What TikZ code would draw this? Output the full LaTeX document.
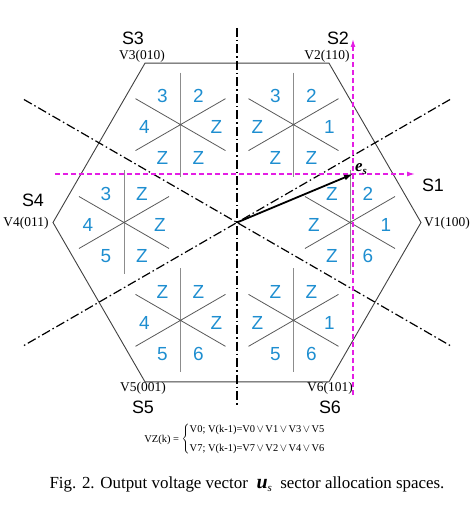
\documentclass[tikz,border=0pt]{standalone}
\usepackage{fontspec}
\setmainfont{Liberation Serif}
\newfontfamily\hexsans{Liberation Sans}
\usetikzlibrary{arrows.meta,positioning}
\definecolor{numblue}{RGB}{30,142,208}
\definecolor{guidemag}{RGB}{228,30,228}
\tikzset{
  hexline/.style={draw=black!75,line width=0.9bp},
  armline/.style={draw=black!65,line width=0.8bp},
  armvert/.style={draw=black!45,line width=0.8bp},
  axisline/.style={line width=1.2bp,dash pattern=on 9bp off 3bp on 1.5bp off 3bp},
  guide/.style={draw=guidemag,line width=1.3bp,dash pattern=on 5bp off 3bp,-{Latex[length=8bp,width=5bp]}},
  num/.style={text=numblue,font=\hexsans\fontsize{19}{19}\selectfont,inner sep=0pt},
  sect/.style={font=\hexsans\fontsize{18}{18}\selectfont,inner sep=0pt},
  vlab/.style={font=\fontsize{13.5}{14}\selectfont,inner sep=0pt},
}
\newcommand{\orv}{\hspace{1.5bp}$\vee$\hspace{1.5bp}}
\begin{document}
\begin{tikzpicture}[x=1bp,y=1bp]
  \useasboundingbox (-237,-289.5) rectangle (237,222.5);
  % outer hexagon
  \path
    (0:184) coordinate (h1)
    (60:184) coordinate (h2)
    (120:184) coordinate (h3)
    (180:184) coordinate (h4)
    (240:184) coordinate (h5)
    (300:184) coordinate (h6);
  \draw[hexline] (h1) -- (h2) -- (h3) -- (h4) -- (h5) -- (h6) -- cycle;

  % dash-dot axes
  \path
    (0,194.5) coordinate (ax1) (0,-182.5) coordinate (ax2)
    (30:246) coordinate (ax3) (210:246) coordinate (ax4)
    (150:246) coordinate (ax5) (330:246) coordinate (ax6);
  \draw[axisline] (ax1) -- (ax2);
  \draw[axisline] (ax3) -- (ax4);
  \draw[axisline] (ax5) -- (ax6);

  % sector stars
  \begin{scope}[shift={(0:113)}]
    \draw[armvert] (90:52) -- (270:52);
    \draw[armline] (30:52) -- (210:52) (150:52) -- (330:52);
    \draw[yshift=-2.5]
      (0:36) node[num] (s1a) {1}
      (60:36) node[num] (s1b) {2}
      (120:36) node[num] (s1c) {Z}
      (180:36) node[num] (s1d) {Z}
      (240:36) node[num] (s1e) {Z}
      (300:36) node[num] (s1f) {6};
  \end{scope}
  \begin{scope}[shift={(60:113)}]
    \draw[armvert] (90:52) -- (270:52);
    \draw[armline] (30:52) -- (210:52) (150:52) -- (330:52);
    \draw[yshift=-2.5]
      (0:36) node[num] (s2a) {1}
      (60:36) node[num] (s2b) {2}
      (120:36) node[num] (s2c) {3}
      (180:36) node[num] (s2d) {Z}
      (240:36) node[num] (s2e) {Z}
      (300:36) node[num] (s2f) {Z};
  \end{scope}
  \begin{scope}[shift={(120:113)}]
    \draw[armvert] (90:52) -- (270:52);
    \draw[armline] (30:52) -- (210:52) (150:52) -- (330:52);
    \draw[yshift=-2.5]
      (0:36) node[num] (s3a) {Z}
      (60:36) node[num] (s3b) {2}
      (120:36) node[num] (s3c) {3}
      (180:36) node[num] (s3d) {4}
      (240:36) node[num] (s3e) {Z}
      (300:36) node[num] (s3f) {Z};
  \end{scope}
  \begin{scope}[shift={(180:113)}]
    \draw[armvert] (90:52) -- (270:52);
    \draw[armline] (30:52) -- (210:52) (150:52) -- (330:52);
    \draw[yshift=-2.5]
      (0:36) node[num] (s4a) {Z}
      (60:36) node[num] (s4b) {Z}
      (120:36) node[num] (s4c) {3}
      (180:36) node[num] (s4d) {4}
      (240:36) node[num] (s4e) {5}
      (300:36) node[num] (s4f) {Z};
  \end{scope}
  \begin{scope}[shift={(240:113)}]
    \draw[armvert] (90:52) -- (270:52);
    \draw[armline] (30:52) -- (210:52) (150:52) -- (330:52);
    \draw[yshift=-2.5]
      (0:36) node[num] (s5a) {Z}
      (60:36) node[num] (s5b) {Z}
      (120:36) node[num] (s5c) {Z}
      (180:36) node[num] (s5d) {4}
      (240:36) node[num] (s5e) {5}
      (300:36) node[num] (s5f) {6};
  \end{scope}
  \begin{scope}[shift={(300:113)}]
    \draw[armvert] (90:52) -- (270:52);
    \draw[armline] (30:52) -- (210:52) (150:52) -- (330:52);
    \draw[yshift=-2.5]
      (0:36) node[num] (s6a) {1}
      (60:36) node[num] (s6b) {Z}
      (120:36) node[num] (s6c) {Z}
      (180:36) node[num] (s6d) {Z}
      (240:36) node[num] (s6e) {5}
      (300:36) node[num] (s6f) {6};
  \end{scope}

  % sector and vector labels
  \draw
    (-104,184.5) node[sect] (S3) {S3}
    (101,184.5) node[sect] (S2) {S2}
    (196,37.5) node[sect] (S1) {S1}
    (-204,22.5) node[sect] (S4) {S4}
    (-94,-184.5) node[sect] (S5) {S5}
    (93,-184.5) node[sect] (S6) {S6};
  \draw
    (-95,166.5) node[vlab] (V3) {V3(010)}
    (90,166.5) node[vlab] (V2) {V2(110)}
    (210,-0.5) node[vlab] (V1) {V1(100)}
    (-211,-0.5) node[vlab] (V4) {V4(011)}
    (-94,-165.5) node[vlab] (V5) {V5(001)}
    (93,-165.5) node[vlab] (V6) {V6(101)};

  % guide lines and output vector
  \path
    (-182,48.5) coordinate (gx1) (178,48.5) coordinate (gx2)
    (116,-172.5) coordinate (gy1) (116,183.5) coordinate (gy2)
    (0,0) coordinate (o) (116,48.5) coordinate (es);
  \draw[guide] (gx1) -- (gx2);
  \draw[guide] (gy1) -- (gy2);
  \draw[line width=1.8bp,-{Latex[length=9bp,width=6bp]}] (o) -- (es);
  \node[right=2bp of es,yshift=5bp,inner sep=0pt,font=\fontsize{17}{17}\selectfont\bfseries\itshape] (eslab)
    {e\raisebox{-3bp}{\fontsize{11}{11}\selectfont s}};

  % zero vector rule and caption
  \node[font=\fontsize{10.5}{11}\selectfont,inner sep=0pt] (vz) at (-2,-217)
    {VZ(k) = $\left\{\begin{tabular}{@{}l@{}}V0; V(k-1)=V0\orv V1\orv V3\orv V5\\[8bp]
      V7; V(k-1)=V7\orv V2\orv V4\orv V6\end{tabular}\right.$};
  \node[font=\fontsize{17}{17}\selectfont,inner sep=0pt] (capt) at (10,-261.5)
    {Fig. 2. Output voltage vector\ \ {\fontsize{20}{20}\selectfont\bfseries\itshape u}\raisebox{-3bp}{\fontsize{11}{11}\selectfont\itshape s}\ \ sector allocation spaces.};
\end{tikzpicture}
\end{document}
